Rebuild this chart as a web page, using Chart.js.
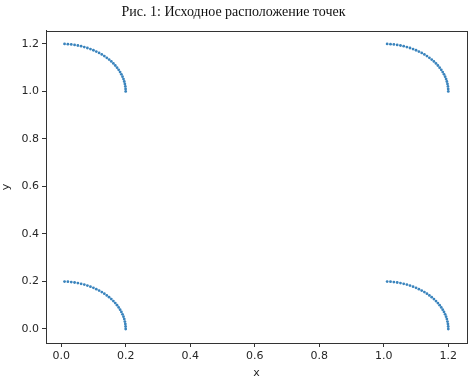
<!DOCTYPE html>
<html>
<head>
<meta charset="utf-8">
<script src="https://cdn.jsdelivr.net/npm/chart.js@4"></script>
<style>
  html, body { margin: 0; padding: 0; background: #fff; }
  #wrap { width: 474px; height: 383px; }
</style>
</head>
<body>
<div id="wrap"><canvas id="c" width="474" height="383"></canvas></div>
<script>
const chartTitle = 'Рис. 1: Исходное расположение точек';
const xLabel = 'x';
const yLabel = 'y';
const tickValues = [0.0, 0.2, 0.4, 0.6, 0.8, 1.0, 1.2];

// bottom-left arc
const arc1X = [0.2000,0.1997,0.1989,0.1975,0.1956,0.1932,0.1902,0.1867,0.1827,0.1782,0.1732,0.1677,0.1618,0.1554,0.1486,0.1414,0.1338,0.1259,0.1176,0.1089,0.1000,0.0908,0.0813,0.0717,0.0618,0.0518,0.0416,0.0313,0.0209,0.0105];
const arc1Y = [0.0000,0.0105,0.0209,0.0313,0.0416,0.0518,0.0618,0.0717,0.0813,0.0908,0.1000,0.1089,0.1176,0.1259,0.1338,0.1414,0.1486,0.1554,0.1618,0.1677,0.1732,0.1782,0.1827,0.1867,0.1902,0.1932,0.1956,0.1975,0.1989,0.1997];
// bottom-right arc
const arc2X = [1.2000,1.1997,1.1989,1.1975,1.1956,1.1932,1.1902,1.1867,1.1827,1.1782,1.1732,1.1677,1.1618,1.1554,1.1486,1.1414,1.1338,1.1259,1.1176,1.1089,1.1000,1.0908,1.0813,1.0717,1.0618,1.0518,1.0416,1.0313,1.0209,1.0105];
const arc2Y = [0.0000,0.0105,0.0209,0.0313,0.0416,0.0518,0.0618,0.0717,0.0813,0.0908,0.1000,0.1089,0.1176,0.1259,0.1338,0.1414,0.1486,0.1554,0.1618,0.1677,0.1732,0.1782,0.1827,0.1867,0.1902,0.1932,0.1956,0.1975,0.1989,0.1997];
// top-left arc
const arc3X = [0.2000,0.1997,0.1989,0.1975,0.1956,0.1932,0.1902,0.1867,0.1827,0.1782,0.1732,0.1677,0.1618,0.1554,0.1486,0.1414,0.1338,0.1259,0.1176,0.1089,0.1000,0.0908,0.0813,0.0717,0.0618,0.0518,0.0416,0.0313,0.0209,0.0105];
const arc3Y = [1.0000,1.0105,1.0209,1.0313,1.0416,1.0518,1.0618,1.0717,1.0813,1.0908,1.1000,1.1089,1.1176,1.1259,1.1338,1.1414,1.1486,1.1554,1.1618,1.1677,1.1732,1.1782,1.1827,1.1867,1.1902,1.1932,1.1956,1.1975,1.1989,1.1997];
// top-right arc
const arc4X = [1.2000,1.1997,1.1989,1.1975,1.1956,1.1932,1.1902,1.1867,1.1827,1.1782,1.1732,1.1677,1.1618,1.1554,1.1486,1.1414,1.1338,1.1259,1.1176,1.1089,1.1000,1.0908,1.0813,1.0717,1.0618,1.0518,1.0416,1.0313,1.0209,1.0105];
const arc4Y = [1.0000,1.0105,1.0209,1.0313,1.0416,1.0518,1.0618,1.0717,1.0813,1.0908,1.1000,1.1089,1.1176,1.1259,1.1338,1.1414,1.1486,1.1554,1.1618,1.1677,1.1732,1.1782,1.1827,1.1867,1.1902,1.1932,1.1956,1.1975,1.1989,1.1997];

const arcsX = [arc1X, arc2X, arc3X, arc4X];
const arcsY = [arc1Y, arc2Y, arc3Y, arc4Y];
const points = [];
arcsX.forEach((xs, k) => xs.forEach((x, i) => points.push({ x: x, y: arcsY[k][i] })));

const ink = '#262626';
const sans = "'DejaVu Sans', sans-serif";
const boxPlugin = {
  id: 'box',
  afterDraw(chart) {
    const { ctx, chartArea: a } = chart;
    ctx.save();
    ctx.strokeStyle = '#333';
    ctx.lineWidth = 1;
    ctx.strokeRect(Math.round(a.left) + 0.5, Math.round(a.top) + 0.5,
                   Math.round(a.right - a.left), Math.round(a.bottom - a.top));
    ctx.restore();
  }
};

const fmt = v => Number(v).toFixed(1);

new Chart(document.getElementById('c'), {
  type: 'scatter',
  data: {
    datasets: [{
      data: points,
      backgroundColor: '#3a84bd',
      borderWidth: 0,
      pointRadius: 1.4,
      pointHoverRadius: 1.4
    }]
  },
  options: {
    responsive: false,
    animation: false,
    devicePixelRatio: 1,
    layout: { padding: { left: 0, right: 7, top: 0, bottom: 0 } },
    plugins: {
      legend: { display: false },
      tooltip: { enabled: false },
      title: {
        display: true,
        text: chartTitle,
        color: '#111',
        font: { family: "'Liberation Serif', 'DejaVu Serif', serif", size: 14, weight: 'normal' },
        padding: { top: 4, bottom: 10 }
      }
    },
    scales: {
      x: {
        type: 'linear',
        min: -0.047,
        max: 1.258,
        afterBuildTicks: s => { s.ticks = tickValues.map(v => ({ value: v })); },
        afterFit: s => { s.height = 40; },
        ticks: { callback: fmt, color: ink, font: { family: sans, size: 11 }, padding: 3, maxRotation: 0 },
        grid: { display: true, drawOnChartArea: false, drawTicks: true, tickLength: 4, color: '#333' },
        border: { display: true, color: '#333' },
        title: { display: true, text: xLabel, color: ink, font: { family: sans, size: 11 }, padding: { top: 0, bottom: 3 } }
      },
      y: {
        type: 'linear',
        min: -0.059,
        max: 1.255,
        afterBuildTicks: s => { s.ticks = tickValues.map(v => ({ value: v })); },
        afterFit: s => { s.width = 46; },
        ticks: { callback: fmt, color: ink, font: { family: sans, size: 11 }, padding: 3 },
        grid: { display: true, drawOnChartArea: false, drawTicks: true, tickLength: 4, color: '#333' },
        border: { display: true, color: '#333' },
        title: { display: true, text: yLabel, color: ink, font: { family: sans, size: 11 }, padding: { top: 0, bottom: 0 } }
      }
    }
  },
  plugins: [boxPlugin]
});
</script>
</body>
</html>
